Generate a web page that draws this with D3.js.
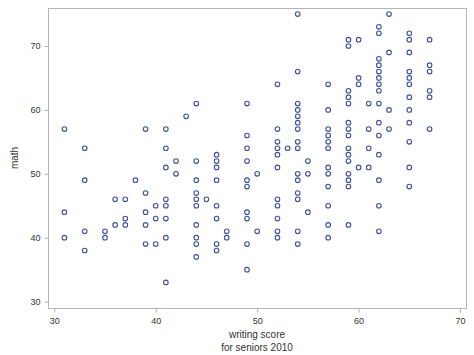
<!DOCTYPE html>
<html>
<head>
<meta charset="utf-8">
<script src="https://cdn.jsdelivr.net/npm/d3@7"></script>
<style>
  body { margin: 0; background: #fff; }
  text { font-family: "Liberation Sans", Arial, sans-serif; fill: #333; }
</style>
</head>
<body>
<script>
// writing score columns and the math scores
const writeScores = [31, 33, 35, 36, 37, 38, 39, 40, 41, 42, 43, 44, 45, 46, 47, 49, 50,
  52, 53, 54, 55, 57, 59, 60, 61, 62, 63, 65, 67];
const mathScores = [
  [57, 44, 40],
  [54, 49, 41, 38],
  [41, 40],
  [46, 42],
  [46, 43, 42],
  [49],
  [57, 47, 44, 42, 39],
  [45, 43, 39],
  [57, 54, 51, 46, 45, 43, 40, 33],
  [52, 50],
  [59],
  [61, 52, 49, 47, 46, 45, 42, 40, 39, 37],
  [46],
  [53, 52, 51, 49, 45, 43, 39, 38],
  [41, 40],
  [61, 56, 54, 52, 49, 48, 44, 43, 39, 35],
  [50, 41],
  [64, 57, 55, 54, 53, 51, 46, 45, 43, 41, 40],
  [54],
  [75, 66, 61, 60, 59, 58, 57, 55, 54, 50, 49, 47, 46, 41, 39],
  [52, 50, 44],
  [64, 60, 57, 56, 55, 54, 51, 50, 48, 45, 42, 40],
  [71, 70, 63, 62, 61, 58, 57, 56, 54, 53, 52, 50, 49, 48, 42],
  [71, 65, 64, 51],
  [61, 57, 54, 51],
  [73, 72, 68, 67, 66, 65, 64, 63, 61, 58, 56, 53, 49, 45, 41],
  [75, 69, 60, 57],
  [72, 71, 69, 66, 65, 64, 62, 60, 58, 55, 51, 48],
  [71, 67, 66, 63, 62, 57]
];
const xTicks = [30, 40, 50, 60, 70];
const yTicks = [30, 40, 50, 60, 70];

const width = 474, height = 355;
const plotLeft = 48, plotRight = 466, plotTop = 8, plotBottom = 308;

const svg = d3.select("body").append("svg")
  .attr("width", width)
  .attr("height", height);

const x = d3.scaleLinear().domain([29.38, 70.59]).range([plotLeft, plotRight]);
const y = d3.scaleLinear().domain([29.0, 75.95]).range([plotBottom, plotTop]);

// flatten the columns into points
const points = [];
writeScores.forEach((w, i) => {
  mathScores[i].forEach(m => points.push({ write: w, math: m }));
});

// frame
svg.append("rect")
  .attr("x", plotLeft + 0.5)
  .attr("y", plotTop + 0.5)
  .attr("width", plotRight - plotLeft)
  .attr("height", plotBottom - plotTop)
  .attr("fill", "none")
  .attr("stroke", "#b4b4b4")
  .attr("stroke-width", 1);

const xAxis = svg.append("g")
  .attr("transform", "translate(0," + (plotBottom + 0.5) + ")")
  .call(d3.axisBottom(x).tickValues(xTicks).tickSize(4).tickPadding(5));
const yAxis = svg.append("g")
  .attr("transform", "translate(" + (plotLeft + 0.5) + ",0)")
  .call(d3.axisLeft(y).tickValues(yTicks).tickSize(4).tickPadding(4));

[xAxis, yAxis].forEach(g => {
  g.select(".domain").remove();
  g.selectAll("line").attr("stroke", "#b4b4b4");
  g.selectAll("text").style("font-size", "9px").attr("fill", "#333");
});

// markers
svg.append("g").selectAll("circle")
  .data(points)
  .enter()
  .append("circle")
  .attr("cx", d => x(d.write))
  .attr("cy", d => y(d.math))
  .attr("r", 2.3)
  .attr("fill", "none")
  .attr("stroke", "#3f519a")
  .attr("stroke-width", 1.1);

// axis titles
svg.append("text")
  .attr("x", (plotLeft + plotRight) / 2)
  .attr("y", 338)
  .attr("text-anchor", "middle")
  .style("font-size", "10px")
  .text("writing score");
svg.append("text")
  .attr("x", (plotLeft + plotRight) / 2)
  .attr("y", 351)
  .attr("text-anchor", "middle")
  .style("font-size", "10px")
  .text("for seniors 2010");
svg.append("text")
  .attr("transform", "translate(18," + ((plotTop + plotBottom) / 2) + ") rotate(-90)")
  .attr("text-anchor", "middle")
  .style("font-size", "10px")
  .text("math");
</script>
</body>
</html>
